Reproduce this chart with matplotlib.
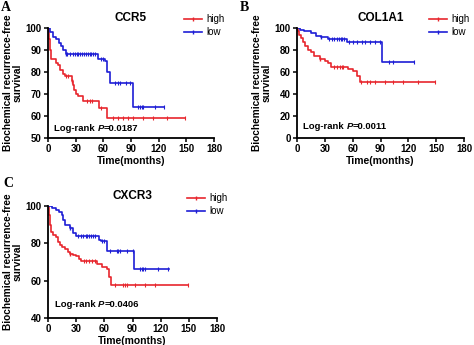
import matplotlib.pyplot as plt
import numpy as np

plt.rcParams['font.family'] = ['Liberation Sans', 'DejaVu Sans']

RED = '#e8262d'
BLUE = '#1e1ed6'

# Panel A: CCR5
ccr5_high_t = [0, 1, 2, 3, 9, 11, 13, 16, 18, 26, 27, 28, 30, 33, 38, 55, 64, 149]
ccr5_high_s = [100, 95, 90, 86, 84, 83, 81, 79, 78, 76, 74, 72, 70, 69, 67, 63.5, 59, 59]
ccr5_high_cens = [20, 22, 42, 45, 48, 58, 70, 76, 81, 87, 92, 103, 114, 129, 149]
ccr5_low_t = [0, 2, 5, 9, 12, 14, 16, 19, 54, 62, 64, 67, 92, 126]
ccr5_low_s = [100, 98, 96, 95, 93, 92, 90, 88, 86, 85, 80, 75, 64, 64]
ccr5_low_cens = [21, 24, 27, 29, 31, 33, 35, 37, 39, 41, 43, 45, 47, 49, 51,
                 57, 60, 73, 76, 78, 85, 89, 98, 100, 102, 103, 116, 126]

# Panel B: COL1A1
col_high_t = [0, 1, 2, 4, 6, 9, 12, 15, 18, 25, 30, 33, 37, 55, 60, 65, 68, 149]
col_high_s = [100, 97, 94, 91, 87, 84, 80, 78, 75, 72, 70, 68, 65, 63, 61, 56, 51, 51]
col_high_cens = [40, 43, 46, 48, 50, 69, 75, 79, 84, 95, 103, 114, 130, 149]
col_low_t = [0, 3, 8, 15, 20, 26, 33, 54, 92, 126]
col_low_s = [100, 98, 97, 95, 93, 92, 90, 87, 69, 69]
col_low_cens = [35, 38, 40, 43, 45, 47, 49, 51, 56, 60, 65, 70, 73, 79, 84, 89,
                99, 104, 126]

# Panel C: CXCR3
cxcr3_high_t = [0, 1, 2, 3, 5, 8, 11, 13, 15, 18, 21, 23, 27, 30, 33, 35, 52, 57, 63, 65, 67, 149]
cxcr3_high_s = [100, 95, 90, 86, 84.5, 83.5, 80.5, 79, 78, 77, 75.5, 74.5, 73.8, 73, 71.5, 70.5,
                69, 67.5, 66, 62, 57.5, 57.5]
cxcr3_high_cens = [38, 41, 44, 47, 50, 71, 80, 82, 84, 93, 103, 114, 149]
cxcr3_low_t = [0, 4, 8, 12, 15, 16, 18, 23, 27, 30, 54, 56, 63, 92, 129]
cxcr3_low_s = [100, 99, 98, 97, 95, 92.5, 90, 88, 85.5, 84, 82, 81, 76, 66.5, 66.5]
cxcr3_low_cens = [32, 35, 37, 40, 42, 44, 46, 48, 50, 57, 60, 66, 73, 75, 77, 84, 90,
                  98, 100, 101, 103, 117, 128]

panels = [
    dict(letter='A', title='CCR5', p='0.0187', ylim=(50, 100), yticks=[50, 60, 70, 80, 90, 100],
         high=(ccr5_high_t, ccr5_high_s, ccr5_high_cens), low=(ccr5_low_t, ccr5_low_s, ccr5_low_cens),
         rect=[48, 28, 214, 138], leg=(184, 14), letpos=(1, 1), ptext=(7, 53)),
    dict(letter='B', title='COL1A1', p='0.0011', ylim=(0, 100), yticks=[0, 20, 40, 60, 80, 100],
         high=(col_high_t, col_high_s, col_high_cens), low=(col_low_t, col_low_s, col_low_cens),
         rect=[297, 28, 464, 138], leg=(429, 14), letpos=(240, 1), ptext=(7, 8)),
    dict(letter='C', title='CXCR3', p='0.0406', ylim=(40, 100), yticks=[40, 60, 80, 100],
         high=(cxcr3_high_t, cxcr3_high_s, cxcr3_high_cens), low=(cxcr3_low_t, cxcr3_low_s, cxcr3_low_cens),
         rect=[48, 206, 217, 318], leg=(187, 193), letpos=(3, 177), ptext=(7, 46)),
]

W, H = 474, 345
fig = plt.figure(figsize=(W / 100, H / 100), dpi=100)


def step_value(t, s, x):
    idx = np.searchsorted(t, x, side='right') - 1
    return np.array(s)[idx]


for pn in panels:
    x0, y0, x1, y1 = pn['rect']
    ax = fig.add_axes([x0 / W, 1 - y1 / H, (x1 - x0) / W, (y1 - y0) / H])
    for key, col, lab in [('high', RED, 'high'), ('low', BLUE, 'low')]:
        t, s, c = pn[key]
        ax.plot(t, s, drawstyle='steps-post', color=col, lw=1.2, label=lab,
                marker='|', markevery=[len(t) // 2], ms=3)
        c = np.array(c)
        ax.plot(c, step_value(t, s, c), ls='none', marker='|', color=col, ms=3, mew=0.8)
    ax.set_xlim(0, 180)
    ax.set_ylim(*pn['ylim'])
    ax.set_xticks([0, 30, 60, 90, 120, 150, 180])
    ax.set_yticks(pn['yticks'])
    for sp in ['top', 'right']:
        ax.spines[sp].set_visible(False)
    for sp in ['left', 'bottom']:
        ax.spines[sp].set_linewidth(1.3)
    ax.tick_params(width=1.1, length=3, labelsize=7, pad=1.5)
    for lbl in ax.get_xticklabels() + ax.get_yticklabels():
        lbl.set_fontweight('bold')
    ax.set_title(pn['title'], fontsize=8.5, fontweight='bold', pad=5)
    ax.set_xlabel('Time(months)', fontsize=7.5, fontweight='bold', labelpad=1)
    ax.set_ylabel('Biochemical recurrence-free\nsurvival', fontsize=7.3, fontweight='bold',
                  labelpad=2, linespacing=1.0)
    lx, ly = pn['leg']
    ax.legend(loc='upper left', bbox_to_anchor=(lx / W, 1 - ly / H), bbox_transform=fig.transFigure,
              frameon=False, fontsize=7, handlelength=1.8, handletextpad=0.5, labelspacing=0.3,
              borderpad=0, borderaxespad=0)
    tx, ty = pn['ptext']
    t1 = ax.text(tx, ty, 'Log-rank ', fontsize=6.8, fontweight='bold', va='baseline')
    t2 = ax.annotate('P', xy=(1, 0), xycoords=t1, va='bottom', fontsize=6.8,
                     fontweight='bold', fontstyle='italic')
    ax.annotate('=' + pn['p'], xy=(1, 0), xycoords=t2, va='bottom', fontsize=6.8, fontweight='bold')
    lx, ly = pn['letpos']
    fig.text(lx / W, 1 - ly / H, pn['letter'], fontsize=10, fontweight='bold',
             family='Liberation Serif', va='top', ha='left')

fig.savefig('out.png', dpi=100)
